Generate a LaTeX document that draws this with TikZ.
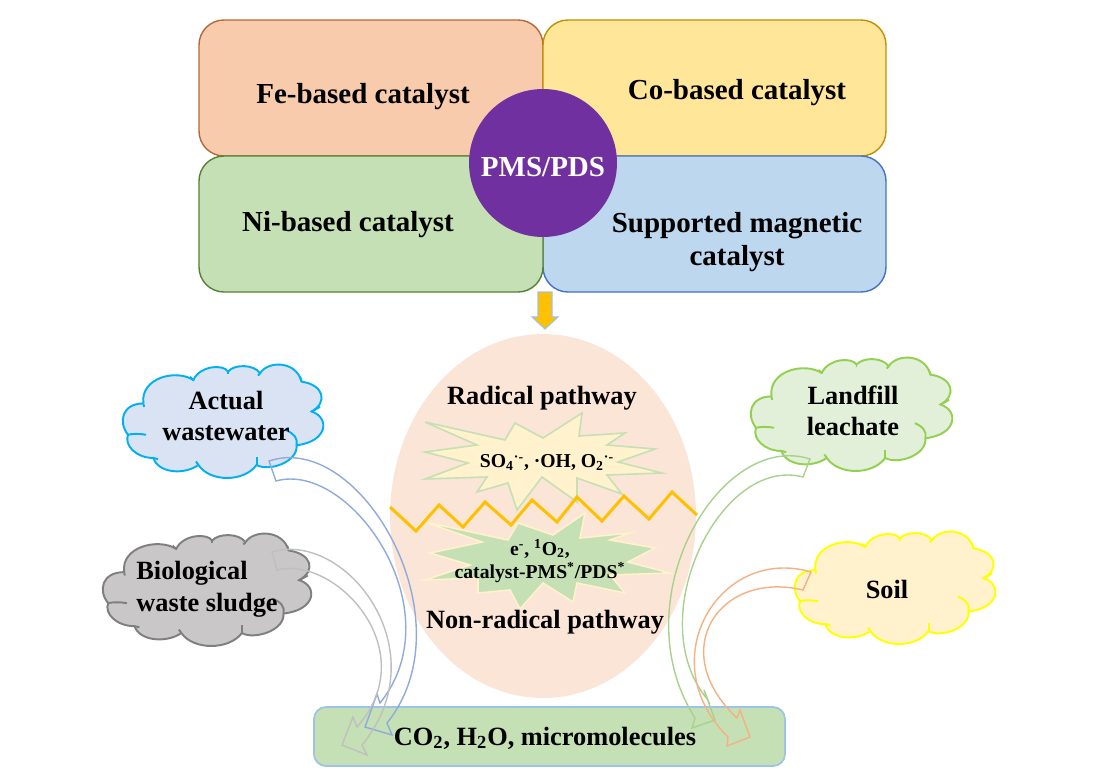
\documentclass[tikz,border=0pt]{standalone}
\usepackage{fontspec}
\setmainfont{Liberation Serif}
\usepackage{xcolor}
\usetikzlibrary{shapes.geometric}
\definecolor{feFill}{HTML}{F8CBAD}
\definecolor{feLine}{HTML}{B5683A}
\definecolor{coFill}{HTML}{FFE699}
\definecolor{coLine}{HTML}{BF9000}
\definecolor{niFill}{HTML}{C5E0B4}
\definecolor{niLine}{HTML}{548235}
\definecolor{maFill}{HTML}{BDD7EE}
\definecolor{maLine}{HTML}{4472C4}
\definecolor{pmsFill}{HTML}{7030A0}
\definecolor{eggFill}{HTML}{FBE5D6}
\definecolor{zigLine}{HTML}{FFC000}
\definecolor{starPale}{HTML}{FFF2CC}
\definecolor{boxLine}{HTML}{9DC3E6}
\definecolor{blueArrow}{HTML}{8FAADC}
\definecolor{grayArrow}{HTML}{BFBFBF}
\definecolor{greenArrow}{HTML}{A9D18E}
\definecolor{orangeArrow}{HTML}{F4B183}
\definecolor{cloudBlue}{HTML}{00B0F0}
\definecolor{cloudBlueFill}{HTML}{DAE3F3}
\definecolor{cloudGray}{HTML}{7F7F7F}
\definecolor{cloudGrayFill}{HTML}{C9C7C7}
\definecolor{cloudGreen}{HTML}{92D050}
\definecolor{cloudGreenFill}{HTML}{E2F0D9}
\definecolor{cloudYellow}{HTML}{FFFF00}
\tikzset{
  catbox/.style={line width=0.8pt,rounded corners=0.5cm},
  bigtext/.style={font=\fontsize{16.5}{19}\selectfont\bfseries,align=center,inner sep=0pt},
  midtext/.style={font=\fontsize{15}{18}\selectfont\bfseries,align=center,inner sep=0pt},
  smalltext/.style={font=\fontsize{11.2}{13.5}\selectfont\bfseries,align=center,inner sep=0pt},
  starline/.style={line width=0.9pt,line join=miter},
  flowline/.style={line width=0.8pt,line join=miter}
}
\newcommand{\cloudblob}[6]{%
  \begin{scope}[shift={(#1,#2)},xscale=#3,yscale=#4,line width=1.1pt]
    \draw[#5,fill=#6] (9.7,34) .. controls (8,12) and (26,4) .. (34.7,13.8)
      .. controls (38,1) and (50,0) .. (52,6.6)
      .. controls (55,0) and (65,0) .. (68,8)
      .. controls (72,-3) and (86,-3) .. (88.8,15.2)
      .. controls (100,18) and (102,33) .. (93.8,41)
      .. controls (103,46) and (102,67) .. (86.3,70)
      .. controls (87,85) and (72,93) .. (66.3,87)
      .. controls (60,102) and (43,102) .. (37.2,87)
      .. controls (30,96) and (17,94) .. (14.7,81)
      .. controls (6,81) and (0,70) .. (2,61)
      .. controls (-3,50) and (-1,34) .. (9.7,34);
    \draw[#5] (2,61) .. controls (4,60) and (8,60) .. (11,61);
    \draw[#5] (86.3,70) .. controls (87,64) and (85,60) .. (81,57);
    \draw[#5] (93.8,41) -- (98,37);
    \draw[#5] (88.8,15.2) -- (88,11);
    \draw[#5] (68,8) -- (67,10);
    \draw[#5] (52,6.6) -- (52,9);
    \draw[#5] (34.7,13.8) -- (33,11);
    \draw[#5] (9.7,34) -- (10,37);
    \draw[#5] (66.3,87) -- (66.3,80);
    \draw[#5] (37.2,87) -- (36,84);
    \draw[#5] (14.7,81) -- (17,82);
  \end{scope}}
\begin{document}
\begin{tikzpicture}[x=0.02cm,y=-0.02cm]
\useasboundingbox (0,0) rectangle (1100,775);
% four catalyst boxes and the circle
\draw[catbox,draw=feLine,fill=feFill] (199,20) rectangle (543,156);
\draw[catbox,draw=coLine,fill=coFill] (543,20) rectangle (886,156);
\draw[catbox,draw=maLine,fill=maFill] (543,156) rectangle (886,292);
\draw[catbox,draw=niLine,fill=niFill] (199,156) rectangle (543,292);
\node[circle,fill=pmsFill,minimum size=2.96cm,inner sep=0pt] (pms) at (543,163) {};
\node[bigtext] (fe) at (363,97) {Fe-based catalyst};
\node[bigtext] (co) at (737,93) {Co-based catalyst};
\node[bigtext] (ni) at (348,225) {Ni-based catalyst};
\node[bigtext] (ma) at (737,242) {Supported magnetic\\catalyst};
\node[bigtext,text=white] (pmstext) at (543,167) {PMS/PDS};
% arrow down
\draw[boxLine,fill=zigLine,line width=0.6pt] (538,292) -- (552,292) -- (552,317) -- (558,317)
  -- (545,329) -- (532,317) -- (538,317) -- cycle;
% pathway ellipse
\node[ellipse,fill=eggFill,minimum width=6.12cm,minimum height=7.28cm,inner sep=0pt] (egg) at (543,516) {};
\draw[starline,draw=niFill,fill=starPale] (425,422) -- (477,445) -- (425,452) -- (468,463) -- (425,479)
  -- (487,477) -- (477,492) -- (508,483) -- (517,510) -- (542,477) -- (577,502) -- (577,478)
  -- (622,494) -- (607,475) -- (662,473) -- (618,462) -- (655,449) -- (607,445) -- (625,433)
  -- (579,436) -- (582,413) -- (543,438) -- (515,423) -- (505,440) -- cycle;
\draw[starline,draw=starPale,fill=niFill] (425,522) -- (482,542) -- (430,553) -- (470,565) -- (425,580)
  -- (478,578) -- (478,593) -- (510,590) -- (520,609) -- (543,583) -- (573,602) -- (577,583)
  -- (625,593) -- (610,575) -- (670,573) -- (628,562) -- (655,548) -- (610,540) -- (630,533)
  -- (580,538) -- (585,513) -- (553,535) -- (518,523) -- (508,540) -- cycle;
\draw[zigLine,line width=1.7pt,line join=miter] (390,507) -- (416,531) -- (439,505) -- (463,527) -- (485,502)
  -- (511,525) -- (532,500) -- (557,522) -- (577,497) -- (602,521) -- (624,496) -- (649,519)
  -- (672,492) -- (697,515);
\node[midtext] (radical) at (542,398) {Radical pathway};
\node[smalltext] (radicals) at (547,463) {SO\textsubscript{4}\textsuperscript{·-}, ·OH, O\textsubscript{2}\textsuperscript{·-}};
\node[smalltext] (nonradicals) at (540,561) {e\textsuperscript{-}, \textsuperscript{1}O\textsubscript{2},\\catalyst-PMS\textsuperscript{*}/PDS\textsuperscript{*}};
\node[midtext] (nonradical) at (545,622) {Non-radical pathway};
% the four clouds
\cloudblob{124}{364}{2}{1.16}{cloudBlue}{cloudBlueFill}
\cloudblob{104}{533}{2.08}{1.15}{cloudGray}{cloudGrayFill}
\cloudblob{752}{357}{2.01}{1.16}{cloudGreen}{cloudGreenFill}
\cloudblob{796}{531}{2}{1.15}{cloudYellow}{starPale}
\node[midtext] (actual) at (226,416) {Actual\\wastewater};
\node[midtext,align=left] (sludge) at (207,589) {Biological\\waste sludge};
\node[midtext] (landfill) at (853,411) {Landfill\\leachate};
\node[midtext] (soil) at (887,589) {Soil};
% product box
\draw[line width=1pt,draw=boxLine,fill=niFill,rounded corners=0.24cm] (314,707) rectangle (785,766);
\node[midtext] (products) at (545,738) {CO\textsubscript{2}, H\textsubscript{2}O, micromolecules};
% block arrows to the product box
\coordinate (blueTailA) at (269,461);
\coordinate (blueTailB) at (276,481);
\draw[flowline,blueArrow] (blueTailA) .. controls (360,430) and (470,620) .. (387,723)
  -- (392,735) -- (365,727) -- (377,694) -- (380,703)
  .. controls (455,610) and (350,460) .. (blueTailB) -- cycle;
\coordinate (grayTailA) at (272,552);
\coordinate (grayTailB) at (277,570);
\draw[flowline,grayArrow] (grayTailA) .. controls (345,530) and (440,650) .. (362,745)
  -- (367,755) -- (342,745) -- (353,717) -- (357,727)
  .. controls (425,650) and (335,555) .. (grayTailB) -- cycle;
\coordinate (greenTailA) at (810,459);
\coordinate (greenTailB) at (803,477);
\draw[flowline,greenArrow] (greenTailA) .. controls (720,430) and (620,600) .. (695,718)
  -- (692,728) -- (715,720) -- (704,690) -- (708,700)
  .. controls (640,620) and (720,455) .. (greenTailB) -- cycle;
\coordinate (orangeTailA) at (811,572);
\coordinate (orangeTailB) at (803,590);
\draw[flowline,orangeArrow] (orangeTailA) .. controls (720,545) and (650,660) .. (728,737)
  -- (727,746) -- (750,737) -- (740,710) -- (737,718)
  .. controls (665,650) and (720,570) .. (orangeTailB) -- cycle;
\end{tikzpicture}
\end{document}
